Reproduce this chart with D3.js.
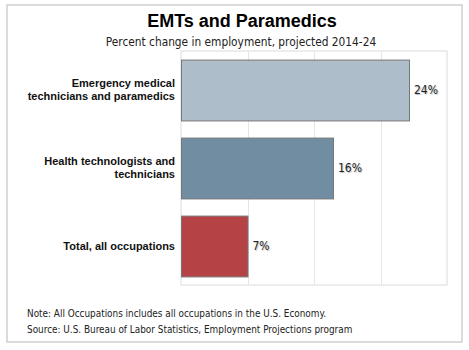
<!DOCTYPE html>
<html><head><meta charset="utf-8">
<script src="https://cdn.jsdelivr.net/npm/d3@7"></script>
<style>body{margin:0;background:#fff}</style>
</head><body>
<script>
const categories = [["Emergency medical","technicians and paramedics"],["Health technologists and","technicians"],["Total, all occupations"]];
const values = [24, 16, 7];
const valueLabels = ["24%", "16%", "7%"];
const colors = ["#adbdc9", "#718da2", "#b54345"];
const gridTicks = [0, 7, 14, 21, 28];
const title = "EMTs and Paramedics";
const subtitle = "Percent change in employment, projected 2014-24";
const notes = ["Note: All Occupations includes all occupations in the U.S. Economy.",
               "Source: U.S. Bureau of Labor Statistics, Employment Projections program"];

const W = 469, H = 350;
const svg = d3.select("body").append("svg").attr("width", W).attr("height", H);
const cond = "'DejaVu Sans Condensed', 'DejaVu Sans', Verdana, sans-serif";

svg.append("rect").attr("x", 7).attr("y", 5).attr("width", 455).attr("height", 337)
  .attr("fill", "#fff").attr("stroke", "#cfcfcf").attr("stroke-width", 1.5);

const plot = {left: 181, right: 447, top: 51, bottom: 285};
const x = d3.scaleLinear().domain([0, 28]).range([plot.left, plot.right]);
const y = d3.scaleBand().domain(d3.range(values.length)).range([plot.top, plot.bottom])
  .paddingInner(0.22).paddingOuter(0.11);

svg.append("rect").attr("x", plot.left).attr("y", plot.top)
  .attr("width", plot.right - plot.left).attr("height", plot.bottom - plot.top)
  .attr("fill", "none").attr("stroke", "#dcdcdc");

svg.append("g").selectAll("line").data(gridTicks.slice(1, -1)).join("line")
  .attr("x1", d => Math.round(x(d)) + 0.5).attr("x2", d => Math.round(x(d)) + 0.5)
  .attr("y1", plot.top).attr("y2", plot.bottom)
  .attr("stroke", "#e6e6e6");

svg.append("g").selectAll("rect").data(values).join("rect")
  .attr("x", x(0) + 0.5).attr("y", (d, i) => y(i) + 0.5)
  .attr("width", d => x(d) - x(0)).attr("height", y.bandwidth())
  .attr("fill", (d, i) => colors[i]).attr("stroke", "#777").attr("stroke-width", 1);

// value labels
svg.append("g").selectAll("text").data(values).join("text")
  .attr("x", d => x(d) + 5).attr("y", (d, i) => y(i) + y.bandwidth() / 2)
  .attr("dy", "0.35em")
  .attr("font-family", cond).style("font-stretch", "condensed").attr("font-size", 12)
  .attr("fill", "#222")
  .style("text-shadow", "1px 1px 1px #bbb")
  .text((d, i) => valueLabels[i]);

// category labels
const lab = svg.append("g").selectAll("text").data(categories).join("text")
  .attr("text-anchor", "end")
  .attr("font-family", "Liberation Sans, Arial, sans-serif").attr("font-weight", "bold")
  .attr("font-size", 11).attr("fill", "#111");
lab.each(function(lines, i) {
  const cy = y(i) + y.bandwidth() / 2;
  const lh = 13;
  lines.forEach((t, k) => {
    d3.select(this).append("tspan").attr("x", 175)
      .attr("y", cy + (k - (lines.length - 1) / 2) * lh).attr("dy", "0.35em").text(t);
  });
});

svg.append("text").attr("x", 242).attr("y", 27).attr("text-anchor", "middle")
  .attr("font-family", "Liberation Sans, Arial, sans-serif").attr("font-weight", "bold")
  .attr("font-size", 18).attr("fill", "#000").text(title);
svg.append("text").attr("x", 241).attr("y", 46).attr("text-anchor", "middle")
  .attr("font-family", cond).style("font-stretch", "condensed")
  .attr("font-size", 11.8).attr("fill", "#222").text(subtitle);

svg.append("g").selectAll("text").data(notes).join("text")
  .attr("x", 27).attr("y", (d, i) => 317 + i * 16)
  .attr("font-family", cond).style("font-stretch", "condensed")
  .attr("font-size", 9.9).attr("fill", "#222").text(d => d);
</script>
</body></html>
